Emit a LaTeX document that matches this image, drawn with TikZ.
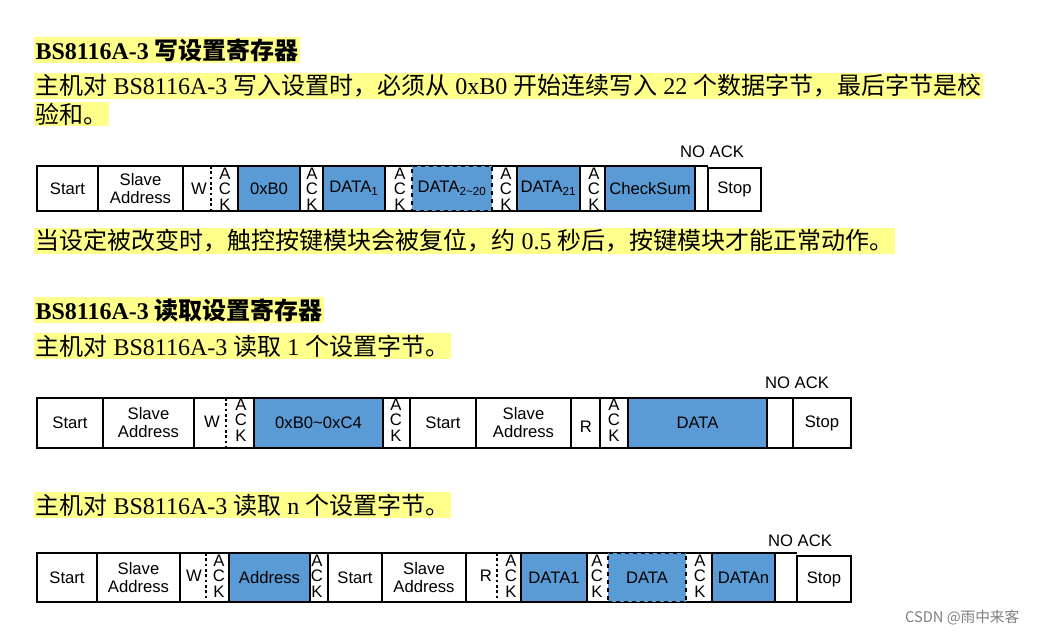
\documentclass[tikz,border=0pt]{standalone}
\usepackage{fontspec}
\setmainfont{Liberation Serif}
\newfontfamily\diag{Liberation Sans}
\newfontfamily\cjk{Noto Sans CJK SC}
\usetikzlibrary{fit}
\definecolor{fillblue}{HTML}{5B9BD5}
\definecolor{hl}{HTML}{FFFF8C}
\begin{document}
\begin{tikzpicture}[x=0.75pt,y=-0.75pt,
  box/.style={draw, line width=0.8pt, inner sep=0pt},
  btxt/.style={font=\diag\fontsize{12.5}{13.5}\selectfont, align=center, inner sep=0pt},
  dat/.style={box, fill=fillblue},
  dsh/.style={dat, dashed},
  lbl/.style={font=\diag\fontsize{12.5}{13}\selectfont, inner sep=0pt},
  ack/.style={font=\diag\fontsize{12.5}{11.5}\selectfont, align=center, inner sep=0pt},
  wire/.style={line width=0.8pt},
  dotl/.style={line width=2pt, dotted},
  txt/.style={anchor=west, inner sep=1pt, fill=hl, font=\fontsize{18}{21}\selectfont},
  ttl/.style={txt, font=\bfseries\fontsize{18}{21}\selectfont}]
\useasboundingbox (0,0) rectangle (1039,637);
\fill[white] (0,0) rectangle (1039,637);

% texts
\node[ttl] (t1) at (34,50) {BS8116A-3 {\cjk 写设置寄存器}};
\node[txt] (t2) at (34,86) {{\cjk 主机对} BS8116A-3 {\cjk 写入设置时，必须从} 0xB0 {\cjk 开始连续写入} 22 {\cjk 个数据字节，最后字节是校}};
\node[txt] (t3) at (34,114) {\cjk 验和。};
\node[txt] (t4) at (34,241) {{\cjk 当设定被改变时，触控按键模块会被复位，约} 0.5 {\cjk 秒后，按键模块才能正常动作。}};
\node[ttl] (t5) at (34,310) {BS8116A-3 {\cjk 读取设置寄存器}};
\node[txt] (t6) at (34,346) {{\cjk 主机对} BS8116A-3 {\cjk 读取} 1 {\cjk 个设置字节。}};
\node[txt] (t7) at (34,505) {{\cjk 主机对} BS8116A-3 {\cjk 读取} n {\cjk 个设置字节。}};
\node[anchor=east, text=gray, font=\cjk\fontsize{11}{12}\selectfont] (wm) at (1024,618) {CSDN @雨中来客};

% row 1 (write)
\coordinate (a1) at (37,166); \coordinate (b1) at (708,166);
\coordinate (c1) at (37,211); \coordinate (d1) at (761,211);
\draw[wire] (a1) -- (b1); \draw[wire] (c1) -- (d1);
\node[box, fit={(37,166)(98,211)}, label={[btxt]center:Start}] (s1) {};
\node[box, fit={(98,166)(183,211)}, label={[btxt]center:{Slave\\Address}}] (sa1) {};
\node[lbl] (w1) at (199,189) {W};
\coordinate (p1) at (211,166); \coordinate (q1) at (211,211);
\draw[dotl] (p1) -- (q1);
\node[ack] (k1a) at (225,189) {A\\C\\K};
\node[dat, fit={(238,166)(300,211)}, label={[btxt]center:0xB0}] (d1a) {};
\node[ack] (k1b) at (312,189) {A\\C\\K};
\node[dat, fit={(323,166)(385,211)}, label={[btxt]center:{DATA\textsubscript{1}}}] (d1b) {};
\node[ack] (k1c) at (400,189) {A\\C\\K};
\node[dsh, fit={(412,166)(492,211)}, label={[btxt]center:{DATA\textsubscript{2\textasciitilde20}}}] (d1c) {};
\node[ack] (k1d) at (506,189) {A\\C\\K};
\node[dat, fit={(517,166)(580,211)}, label={[btxt]center:{DATA\textsubscript{21}}}] (d1d) {};
\node[ack] (k1e) at (594,189) {A\\C\\K};
\node[dat, fit={(605,166)(695,211)}, label={[btxt]center:CheckSum}] (d1e) {};
\node[lbl] (n1) at (712,152) {NO ACK};
\node[box, fill=white, fit={(708,168)(761,211)}, label={[btxt]center:Stop}] (st1) {};

% row 2 (read 1)
\coordinate (a2) at (37,398); \coordinate (b2) at (793,398);
\coordinate (c2) at (37,448); \coordinate (d2) at (851,448);
\draw[wire] (a2) -- (b2); \draw[wire] (c2) -- (d2);
\node[box, fit={(37,398)(103,448)}, label={[btxt]center:Start}] (s2) {};
\node[box, fit={(103,398)(194,448)}, label={[btxt]center:{Slave\\Address}}] (sa2) {};
\node[lbl] (w2) at (212,422) {W};
\coordinate (p2) at (226,398); \coordinate (q2) at (226,448);
\draw[dotl] (p2) -- (q2);
\node[ack] (k2a) at (241,420) {A\\C\\K};
\node[dat, fit={(254,398)(383,448)}, label={[btxt]center:0xB0\textasciitilde0xC4}] (d2a) {};
\node[ack] (k2b) at (396,420) {A\\C\\K};
\node[box, fit={(410,398)(476,448)}, label={[btxt]center:Start}] (s2b) {};
\node[box, fit={(476,398)(571,448)}, label={[btxt]center:{Slave\\Address}}] (sa2b) {};
\node[lbl] (r2) at (586,427) {R};
\coordinate (p2b) at (600,398); \coordinate (q2b) at (600,448);
\draw[wire] (p2b) -- (q2b);
\node[ack] (k2c) at (614,420) {A\\C\\K};
\node[dat, fit={(628,398)(767,448)}, label={[btxt]center:DATA}] (d2b) {};
\node[lbl] (n2) at (797,383) {NO ACK};
\node[box, fill=white, fit={(793,398)(851,448)}, label={[btxt]center:Stop}] (st2) {};

% row 3 (read n)
\coordinate (a3) at (37,553); \coordinate (b3) at (797,553);
\coordinate (c3) at (37,602); \coordinate (d3) at (851,602);
\draw[wire] (a3) -- (b3); \draw[wire] (c3) -- (d3);
\node[box, fit={(37,553)(97,602)}, label={[btxt]center:Start}] (s3) {};
\node[box, fit={(97,553)(180,602)}, label={[btxt]center:{Slave\\Address}}] (sa3) {};
\node[lbl] (w3) at (194,576) {W};
\coordinate (p3) at (206,553); \coordinate (q3) at (206,602);
\draw[dotl] (p3) -- (q3);
\node[ack] (k3a) at (219,576) {A\\C\\K};
\node[dat, fit={(229,553)(310,602)}, label={[btxt]center:Address}] (d3a) {};
\node[ack] (k3b) at (317,576) {A\\C\\K};
\node[box, fit={(328,553)(382,602)}, label={[btxt]center:Start}] (s3b) {};
\node[box, fit={(382,553)(466,602)}, label={[btxt]center:{Slave\\Address}}] (sa3b) {};
\node[lbl] (r3) at (486,576) {R};
\coordinate (p3b) at (497,553); \coordinate (q3b) at (497,602);
\draw[dotl] (p3b) -- (q3b);
\node[ack] (k3c) at (511,576) {A\\C\\K};
\node[dat, fit={(521,553)(587,602)}, label={[btxt]center:DATA1}] (d3b) {};
\node[ack] (k3d) at (597,576) {A\\C\\K};
\node[dsh, fit={(608,553)(686,602)}, label={[btxt]center:DATA}] (d3c) {};
\node[ack] (k3e) at (700,576) {A\\C\\K};
\node[dat, fit={(712,553)(775,602)}, label={[btxt]center:DATAn}] (d3d) {};
\node[lbl] (n3) at (800,541) {NO ACK};
\node[box, fill=white, fit={(797,556)(851,602)}, label={[btxt]center:Stop}] (st3) {};
\end{tikzpicture}
\end{document}
